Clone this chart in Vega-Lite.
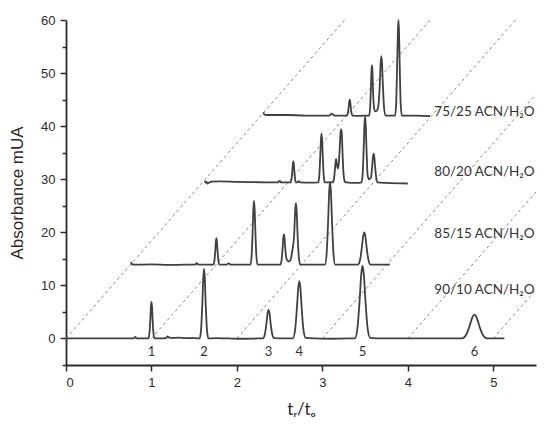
{
  "$schema": "https://vega.github.io/schema/vega-lite/v6.json",
  "description": "Chromatograms at four ACN/H2O ratios, stacked",
  "width": 470,
  "height": 345,
  "autosize": {"type": "none"},
  "padding": {"left": 66, "top": 20, "right": 14, "bottom": 71},
  "config": {"view": {"stroke": null}, "axis": {"grid": false}},
  "datasets": {
    "guides": [
      {"g": 0, "x": 0, "y": 0}, {"g": 0, "x": 3.26, "y": 60},
      {"g": 1, "x": 1, "y": 0}, {"g": 1, "x": 4.26, "y": 60},
      {"g": 2, "x": 2, "y": 0}, {"g": 2, "x": 5.26, "y": 60},
      {"g": 3, "x": 3, "y": 0}, {"g": 3, "x": 5.5, "y": 46.0},
      {"g": 4, "x": 4, "y": 0}, {"g": 4, "x": 5.5, "y": 27.6},
      {"g": 5, "x": 5, "y": 0}, {"g": 5, "x": 5.5, "y": 9.2}
    ],
    "labels": [
      {"x": 4.31, "y": 42.6, "label": "75/25 ACN/H₂O"},
      {"x": 4.31, "y": 31.3, "label": "80/20 ACN/H₂O"},
      {"x": 4.31, "y": 19.6, "label": "85/15 ACN/H₂O"},
      {"x": 4.31, "y": 9.2, "label": "90/10 ACN/H₂O"}
    ],
    "peaks": [
      {"x": 1.0, "y": -2.5, "label": "1"},
      {"x": 1.615, "y": -2.5, "label": "2"},
      {"x": 2.37, "y": -2.5, "label": "3"},
      {"x": 2.73, "y": -2.5, "label": "4"},
      {"x": 3.47, "y": -2.5, "label": "5"},
      {"x": 4.78, "y": -2.5, "label": "6"}
    ],
    "traces": [
      {"t": "90/10", "x": 0, "y": 0}, {"t": "90/10", "x": 0.5, "y": 0}, {"t": "90/10", "x": 0.78, "y": 0.02},
      {"t": "90/10", "x": 0.795, "y": 0.05}, {"t": "90/10", "x": 0.81, "y": 0.3}, {"t": "90/10", "x": 0.825, "y": 0.05},
      {"t": "90/10", "x": 0.85, "y": 0}, {"t": "90/10", "x": 0.95, "y": 0},
      {"t": "90/10", "x": 0.964, "y": 0}, {"t": "90/10", "x": 0.976, "y": 0.93}, {"t": "90/10", "x": 0.986, "y": 3.36},
      {"t": "90/10", "x": 0.994, "y": 6.09}, {"t": "90/10", "x": 1.0, "y": 6.9}, {"t": "90/10", "x": 1.006, "y": 6.09},
      {"t": "90/10", "x": 1.014, "y": 3.36}, {"t": "90/10", "x": 1.024, "y": 0.93}, {"t": "90/10", "x": 1.036, "y": 0},
      {"t": "90/10", "x": 1.1, "y": 0}, {"t": "90/10", "x": 1.17, "y": 0.05}, {"t": "90/10", "x": 1.19, "y": 0.4},
      {"t": "90/10", "x": 1.21, "y": 0.15}, {"t": "90/10", "x": 1.25, "y": 0.1}, {"t": "90/10", "x": 1.32, "y": 0.15},
      {"t": "90/10", "x": 1.4, "y": 0.05}, {"t": "90/10", "x": 1.48, "y": 0.1}, {"t": "90/10", "x": 1.55, "y": 0},
      {"t": "90/10", "x": 1.564, "y": 0}, {"t": "90/10", "x": 1.581, "y": 1.77}, {"t": "90/10", "x": 1.595, "y": 6.38},
      {"t": "90/10", "x": 1.607, "y": 11.55}, {"t": "90/10", "x": 1.615, "y": 13.1}, {"t": "90/10", "x": 1.624, "y": 11.55},
      {"t": "90/10", "x": 1.635, "y": 6.38}, {"t": "90/10", "x": 1.649, "y": 1.77}, {"t": "90/10", "x": 1.666, "y": 0},
      {"t": "90/10", "x": 1.75, "y": 0.05}, {"t": "90/10", "x": 1.9, "y": 0}, {"t": "90/10", "x": 2.1, "y": -0.05},
      {"t": "90/10", "x": 2.25, "y": 0},
      {"t": "90/10", "x": 2.304, "y": 0}, {"t": "90/10", "x": 2.326, "y": 0.73}, {"t": "90/10", "x": 2.344, "y": 2.63},
      {"t": "90/10", "x": 2.359, "y": 4.76}, {"t": "90/10", "x": 2.37, "y": 5.4}, {"t": "90/10", "x": 2.381, "y": 4.76},
      {"t": "90/10", "x": 2.396, "y": 2.63}, {"t": "90/10", "x": 2.414, "y": 0.73}, {"t": "90/10", "x": 2.436, "y": 0.05},
      {"t": "90/10", "x": 2.55, "y": 0}, {"t": "90/10", "x": 2.62, "y": 0},
      {"t": "90/10", "x": 2.655, "y": 0}, {"t": "90/10", "x": 2.68, "y": 1.46}, {"t": "90/10", "x": 2.7, "y": 5.26},
      {"t": "90/10", "x": 2.718, "y": 9.53}, {"t": "90/10", "x": 2.73, "y": 10.8}, {"t": "90/10", "x": 2.743, "y": 9.53},
      {"t": "90/10", "x": 2.76, "y": 5.26}, {"t": "90/10", "x": 2.78, "y": 1.46}, {"t": "90/10", "x": 2.805, "y": 0.1},
      {"t": "90/10", "x": 2.9, "y": 0}, {"t": "90/10", "x": 3.1, "y": -0.05}, {"t": "90/10", "x": 3.3, "y": 0},
      {"t": "90/10", "x": 3.38, "y": 0}, {"t": "90/10", "x": 3.41, "y": 1.85}, {"t": "90/10", "x": 3.434, "y": 6.67},
      {"t": "90/10", "x": 3.455, "y": 12.08}, {"t": "90/10", "x": 3.47, "y": 13.7}, {"t": "90/10", "x": 3.485, "y": 12.08},
      {"t": "90/10", "x": 3.506, "y": 6.67}, {"t": "90/10", "x": 3.53, "y": 1.85}, {"t": "90/10", "x": 3.56, "y": 0.1},
      {"t": "90/10", "x": 3.7, "y": 0}, {"t": "90/10", "x": 4.0, "y": 0}, {"t": "90/10", "x": 4.3, "y": 0},
      {"t": "90/10", "x": 4.55, "y": 0},
      {"t": "90/10", "x": 4.63, "y": 0}, {"t": "90/10", "x": 4.68, "y": 0.61}, {"t": "90/10", "x": 4.72, "y": 2.19},
      {"t": "90/10", "x": 4.755, "y": 3.97}, {"t": "90/10", "x": 4.78, "y": 4.5}, {"t": "90/10", "x": 4.805, "y": 3.97},
      {"t": "90/10", "x": 4.84, "y": 2.19}, {"t": "90/10", "x": 4.88, "y": 0.61}, {"t": "90/10", "x": 4.93, "y": 0},
      {"t": "90/10", "x": 5.13, "y": 0},

      {"t": "85/15", "x": 0.76, "y": 14.4}, {"t": "85/15", "x": 0.77, "y": 14.0}, {"t": "85/15", "x": 0.8, "y": 13.9},
      {"t": "85/15", "x": 1.0, "y": 13.95}, {"t": "85/15", "x": 1.2, "y": 13.85}, {"t": "85/15", "x": 1.4, "y": 13.9},
      {"t": "85/15", "x": 1.51, "y": 13.9}, {"t": "85/15", "x": 1.53, "y": 14.2}, {"t": "85/15", "x": 1.55, "y": 13.9},
      {"t": "85/15", "x": 1.724, "y": 13.9}, {"t": "85/15", "x": 1.736, "y": 14.58}, {"t": "85/15", "x": 1.746, "y": 16.34},
      {"t": "85/15", "x": 1.754, "y": 18.31}, {"t": "85/15", "x": 1.76, "y": 18.9}, {"t": "85/15", "x": 1.766, "y": 18.31},
      {"t": "85/15", "x": 1.774, "y": 16.34}, {"t": "85/15", "x": 1.784, "y": 14.58}, {"t": "85/15", "x": 1.796, "y": 13.9},
      {"t": "85/15", "x": 1.88, "y": 13.9}, {"t": "85/15", "x": 1.9, "y": 14.15}, {"t": "85/15", "x": 1.93, "y": 13.9},
      {"t": "85/15", "x": 2.05, "y": 13.9},
      {"t": "85/15", "x": 2.158, "y": 13.9}, {"t": "85/15", "x": 2.172, "y": 15.52}, {"t": "85/15", "x": 2.183, "y": 19.74},
      {"t": "85/15", "x": 2.193, "y": 24.48}, {"t": "85/15", "x": 2.2, "y": 25.9}, {"t": "85/15", "x": 2.207, "y": 24.48},
      {"t": "85/15", "x": 2.217, "y": 19.74}, {"t": "85/15", "x": 2.228, "y": 15.52}, {"t": "85/15", "x": 2.242, "y": 13.9},
      {"t": "85/15", "x": 2.4, "y": 13.9},
      {"t": "85/15", "x": 2.508, "y": 13.9}, {"t": "85/15", "x": 2.522, "y": 14.67}, {"t": "85/15", "x": 2.533, "y": 16.68},
      {"t": "85/15", "x": 2.543, "y": 18.93}, {"t": "85/15", "x": 2.55, "y": 19.6}, {"t": "85/15", "x": 2.557, "y": 18.93},
      {"t": "85/15", "x": 2.567, "y": 16.68}, {"t": "85/15", "x": 2.58, "y": 15.0}, {"t": "85/15", "x": 2.6, "y": 14.5},
      {"t": "85/15", "x": 2.625, "y": 14.7}, {"t": "85/15", "x": 2.645, "y": 16.2}, {"t": "85/15", "x": 2.67, "y": 19.55},
      {"t": "85/15", "x": 2.682, "y": 24.13}, {"t": "85/15", "x": 2.69, "y": 25.5}, {"t": "85/15", "x": 2.699, "y": 24.13},
      {"t": "85/15", "x": 2.71, "y": 19.55}, {"t": "85/15", "x": 2.724, "y": 15.47}, {"t": "85/15", "x": 2.741, "y": 13.9},
      {"t": "85/15", "x": 2.9, "y": 13.9},
      {"t": "85/15", "x": 3.03, "y": 13.9}, {"t": "85/15", "x": 3.05, "y": 16.01}, {"t": "85/15", "x": 3.066, "y": 21.5},
      {"t": "85/15", "x": 3.08, "y": 27.66}, {"t": "85/15", "x": 3.09, "y": 29.5}, {"t": "85/15", "x": 3.1, "y": 27.66},
      {"t": "85/15", "x": 3.114, "y": 21.5}, {"t": "85/15", "x": 3.13, "y": 16.01}, {"t": "85/15", "x": 3.15, "y": 13.9},
      {"t": "85/15", "x": 3.3, "y": 13.9},
      {"t": "85/15", "x": 3.415, "y": 13.9}, {"t": "85/15", "x": 3.44, "y": 14.72}, {"t": "85/15", "x": 3.46, "y": 16.87},
      {"t": "85/15", "x": 3.478, "y": 19.28}, {"t": "85/15", "x": 3.49, "y": 20.0}, {"t": "85/15", "x": 3.503, "y": 19.28},
      {"t": "85/15", "x": 3.52, "y": 16.87}, {"t": "85/15", "x": 3.54, "y": 14.72}, {"t": "85/15", "x": 3.565, "y": 13.9},
      {"t": "85/15", "x": 3.79, "y": 13.9},

      {"t": "80/20", "x": 1.625, "y": 29.7}, {"t": "80/20", "x": 1.635, "y": 29.3}, {"t": "80/20", "x": 1.645, "y": 29.5},
      {"t": "80/20", "x": 1.655, "y": 29.2}, {"t": "80/20", "x": 1.67, "y": 29.3}, {"t": "80/20", "x": 1.7, "y": 29.55},
      {"t": "80/20", "x": 1.8, "y": 29.6}, {"t": "80/20", "x": 2.0, "y": 29.5}, {"t": "80/20", "x": 2.2, "y": 29.45},
      {"t": "80/20", "x": 2.4, "y": 29.4}, {"t": "80/20", "x": 2.48, "y": 29.4}, {"t": "80/20", "x": 2.5, "y": 29.7},
      {"t": "80/20", "x": 2.52, "y": 29.4},
      {"t": "80/20", "x": 2.627, "y": 29.4}, {"t": "80/20", "x": 2.638, "y": 29.94}, {"t": "80/20", "x": 2.647, "y": 31.35},
      {"t": "80/20", "x": 2.655, "y": 32.93}, {"t": "80/20", "x": 2.66, "y": 33.4}, {"t": "80/20", "x": 2.666, "y": 32.93},
      {"t": "80/20", "x": 2.673, "y": 31.35}, {"t": "80/20", "x": 2.682, "y": 29.94}, {"t": "80/20", "x": 2.693, "y": 29.4},
      {"t": "80/20", "x": 2.71, "y": 29.4}, {"t": "80/20", "x": 2.725, "y": 29.65}, {"t": "80/20", "x": 2.74, "y": 29.4},
      {"t": "80/20", "x": 2.85, "y": 29.35},
      {"t": "80/20", "x": 2.951, "y": 29.4}, {"t": "80/20", "x": 2.964, "y": 30.64}, {"t": "80/20", "x": 2.974, "y": 33.88},
      {"t": "80/20", "x": 2.984, "y": 37.51}, {"t": "80/20", "x": 2.99, "y": 38.6}, {"t": "80/20", "x": 2.997, "y": 37.51},
      {"t": "80/20", "x": 3.006, "y": 33.88}, {"t": "80/20", "x": 3.016, "y": 30.64}, {"t": "80/20", "x": 3.029, "y": 29.4},
      {"t": "80/20", "x": 3.1, "y": 29.4},
      {"t": "80/20", "x": 3.12, "y": 29.4}, {"t": "80/20", "x": 3.135, "y": 30.0}, {"t": "80/20", "x": 3.148, "y": 32.0},
      {"t": "80/20", "x": 3.156, "y": 33.5}, {"t": "80/20", "x": 3.162, "y": 33.8}, {"t": "80/20", "x": 3.172, "y": 32.6},
      {"t": "80/20", "x": 3.183, "y": 32.0}, {"t": "80/20", "x": 3.195, "y": 33.5}, {"t": "80/20", "x": 3.205, "y": 36.5},
      {"t": "80/20", "x": 3.214, "y": 39.0}, {"t": "80/20", "x": 3.22, "y": 39.4}, {"t": "80/20", "x": 3.227, "y": 38.8},
      {"t": "80/20", "x": 3.236, "y": 35.0}, {"t": "80/20", "x": 3.248, "y": 31.0}, {"t": "80/20", "x": 3.262, "y": 29.6},
      {"t": "80/20", "x": 3.28, "y": 29.4}, {"t": "80/20", "x": 3.4, "y": 29.3},
      {"t": "80/20", "x": 3.458, "y": 29.4}, {"t": "80/20", "x": 3.472, "y": 31.09}, {"t": "80/20", "x": 3.483, "y": 35.49},
      {"t": "80/20", "x": 3.493, "y": 40.43}, {"t": "80/20", "x": 3.5, "y": 41.9}, {"t": "80/20", "x": 3.507, "y": 40.43},
      {"t": "80/20", "x": 3.517, "y": 35.49}, {"t": "80/20", "x": 3.528, "y": 31.09}, {"t": "80/20", "x": 3.542, "y": 30.0},
      {"t": "80/20", "x": 3.555, "y": 30.1}, {"t": "80/20", "x": 3.568, "y": 30.3}, {"t": "80/20", "x": 3.581, "y": 32.03},
      {"t": "80/20", "x": 3.592, "y": 34.16}, {"t": "80/20", "x": 3.6, "y": 34.8}, {"t": "80/20", "x": 3.608, "y": 34.16},
      {"t": "80/20", "x": 3.619, "y": 32.03}, {"t": "80/20", "x": 3.632, "y": 30.13}, {"t": "80/20", "x": 3.648, "y": 29.4},
      {"t": "80/20", "x": 3.75, "y": 29.3}, {"t": "80/20", "x": 4.0, "y": 29.2},

      {"t": "75/25", "x": 2.31, "y": 42.6}, {"t": "75/25", "x": 2.32, "y": 42.2}, {"t": "75/25", "x": 2.35, "y": 42.1},
      {"t": "75/25", "x": 2.6, "y": 42.1}, {"t": "75/25", "x": 2.8, "y": 42.0}, {"t": "75/25", "x": 3.0, "y": 42.0},
      {"t": "75/25", "x": 3.08, "y": 42.0}, {"t": "75/25", "x": 3.11, "y": 42.35}, {"t": "75/25", "x": 3.14, "y": 42.0},
      {"t": "75/25", "x": 3.2, "y": 42.0},
      {"t": "75/25", "x": 3.287, "y": 42.0}, {"t": "75/25", "x": 3.298, "y": 42.41}, {"t": "75/25", "x": 3.307, "y": 43.46},
      {"t": "75/25", "x": 3.315, "y": 44.65}, {"t": "75/25", "x": 3.32, "y": 45.0}, {"t": "75/25", "x": 3.326, "y": 44.65},
      {"t": "75/25", "x": 3.333, "y": 43.46}, {"t": "75/25", "x": 3.342, "y": 42.41}, {"t": "75/25", "x": 3.353, "y": 42.0},
      {"t": "75/25", "x": 3.45, "y": 41.95}, {"t": "75/25", "x": 3.52, "y": 42.0},
      {"t": "75/25", "x": 3.547, "y": 42.0}, {"t": "75/25", "x": 3.558, "y": 43.28}, {"t": "75/25", "x": 3.567, "y": 46.63},
      {"t": "75/25", "x": 3.575, "y": 50.38}, {"t": "75/25", "x": 3.58, "y": 51.5}, {"t": "75/25", "x": 3.586, "y": 50.38},
      {"t": "75/25", "x": 3.593, "y": 46.63}, {"t": "75/25", "x": 3.602, "y": 43.9}, {"t": "75/25", "x": 3.613, "y": 42.9},
      {"t": "75/25", "x": 3.628, "y": 42.8},
      {"t": "75/25", "x": 3.645, "y": 43.1}, {"t": "75/25", "x": 3.658, "y": 44.2}, {"t": "75/25", "x": 3.671, "y": 47.45},
      {"t": "75/25", "x": 3.682, "y": 51.88}, {"t": "75/25", "x": 3.69, "y": 53.2}, {"t": "75/25", "x": 3.698, "y": 51.88},
      {"t": "75/25", "x": 3.709, "y": 47.45}, {"t": "75/25", "x": 3.722, "y": 43.51}, {"t": "75/25", "x": 3.738, "y": 42.0},
      {"t": "75/25", "x": 3.8, "y": 42.0},
      {"t": "75/25", "x": 3.851, "y": 42.0}, {"t": "75/25", "x": 3.864, "y": 44.43}, {"t": "75/25", "x": 3.874, "y": 50.77},
      {"t": "75/25", "x": 3.884, "y": 57.88}, {"t": "75/25", "x": 3.89, "y": 60.0}, {"t": "75/25", "x": 3.897, "y": 57.88},
      {"t": "75/25", "x": 3.906, "y": 50.77}, {"t": "75/25", "x": 3.916, "y": 44.43}, {"t": "75/25", "x": 3.929, "y": 42.0},
      {"t": "75/25", "x": 4.1, "y": 42.0}, {"t": "75/25", "x": 4.26, "y": 41.9}
    ]
  },
  "encoding": {
    "x": {
      "field": "x",
      "type": "quantitative",
      "scale": {"domain": [0, 5.5], "nice": false, "zero": false},
      "axis": {
        "title": "tᵣ/tₒ",
        "values": [0, 0.5, 1, 1.5, 2, 2.5, 3, 3.5, 4, 4.5, 5, 5.5],
        "format": "d",
        "labelExpr": "datum.value % 1 === 0 ? datum.label : ''",
        "tickSize": {"condition": {"test": "datum.value % 1 !== 0", "value": 4}, "value": 6},
        "tickWidth": 1.5,
        "tickColor": "#2a2a2a",
        "domainColor": "#2a2a2a",
        "domainWidth": 1.8,
        "labelFont": "Liberation Sans",
        "labelFontSize": 13,
        "labelColor": "#2a2a2a",
        "labelPadding": 5,
        "titleFont": "Lato",
        "titleFontSize": 17,
        "titleFontWeight": "normal",
        "titleColor": "#2a2a2a",
        "titlePadding": 12
      }
    },
    "y": {
      "field": "y",
      "type": "quantitative",
      "scale": {"domain": [-5, 60], "nice": false, "zero": false},
      "axis": {
        "title": "Absorbance mUA",
        "values": [-5, 0, 5, 10, 15, 20, 25, 30, 35, 40, 45, 50, 55, 60],
        "labelExpr": "datum.value % 10 === 0 ? datum.label : ''",
        "tickSize": {"condition": {"test": "datum.value % 10 !== 0", "value": 4}, "value": 6},
        "tickWidth": 1.5,
        "tickColor": "#2a2a2a",
        "domainColor": "#2a2a2a",
        "domainWidth": 1.8,
        "labelFont": "Liberation Sans",
        "labelFontSize": 13,
        "labelColor": "#2a2a2a",
        "labelPadding": 5,
        "titleFont": "Liberation Sans",
        "titleFontSize": 17,
        "titleFontWeight": "normal",
        "titleColor": "#2a2a2a",
        "titlePadding": 14
      }
    }
  },
  "layer": [
    {
      "data": {"name": "guides"},
      "mark": {"type": "line", "stroke": "#8a8a8a", "strokeWidth": 1, "strokeDash": [3, 3]},
      "encoding": {"detail": {"field": "g", "type": "nominal"}}
    },
    {
      "data": {"name": "traces"},
      "mark": {"type": "line", "stroke": "#404040", "strokeWidth": 1.8, "interpolate": "monotone"},
      "encoding": {"detail": {"field": "t", "type": "nominal"}}
    },
    {
      "data": {"name": "labels"},
      "mark": {"type": "text", "align": "left", "baseline": "middle", "font": "Lato", "fontSize": 13.5, "color": "#333"},
      "encoding": {"text": {"field": "label"}}
    },
    {
      "data": {"name": "peaks"},
      "mark": {"type": "text", "align": "center", "baseline": "middle", "font": "Lato", "fontSize": 13, "color": "#333"},
      "encoding": {"text": {"field": "label"}}
    }
  ]
}
